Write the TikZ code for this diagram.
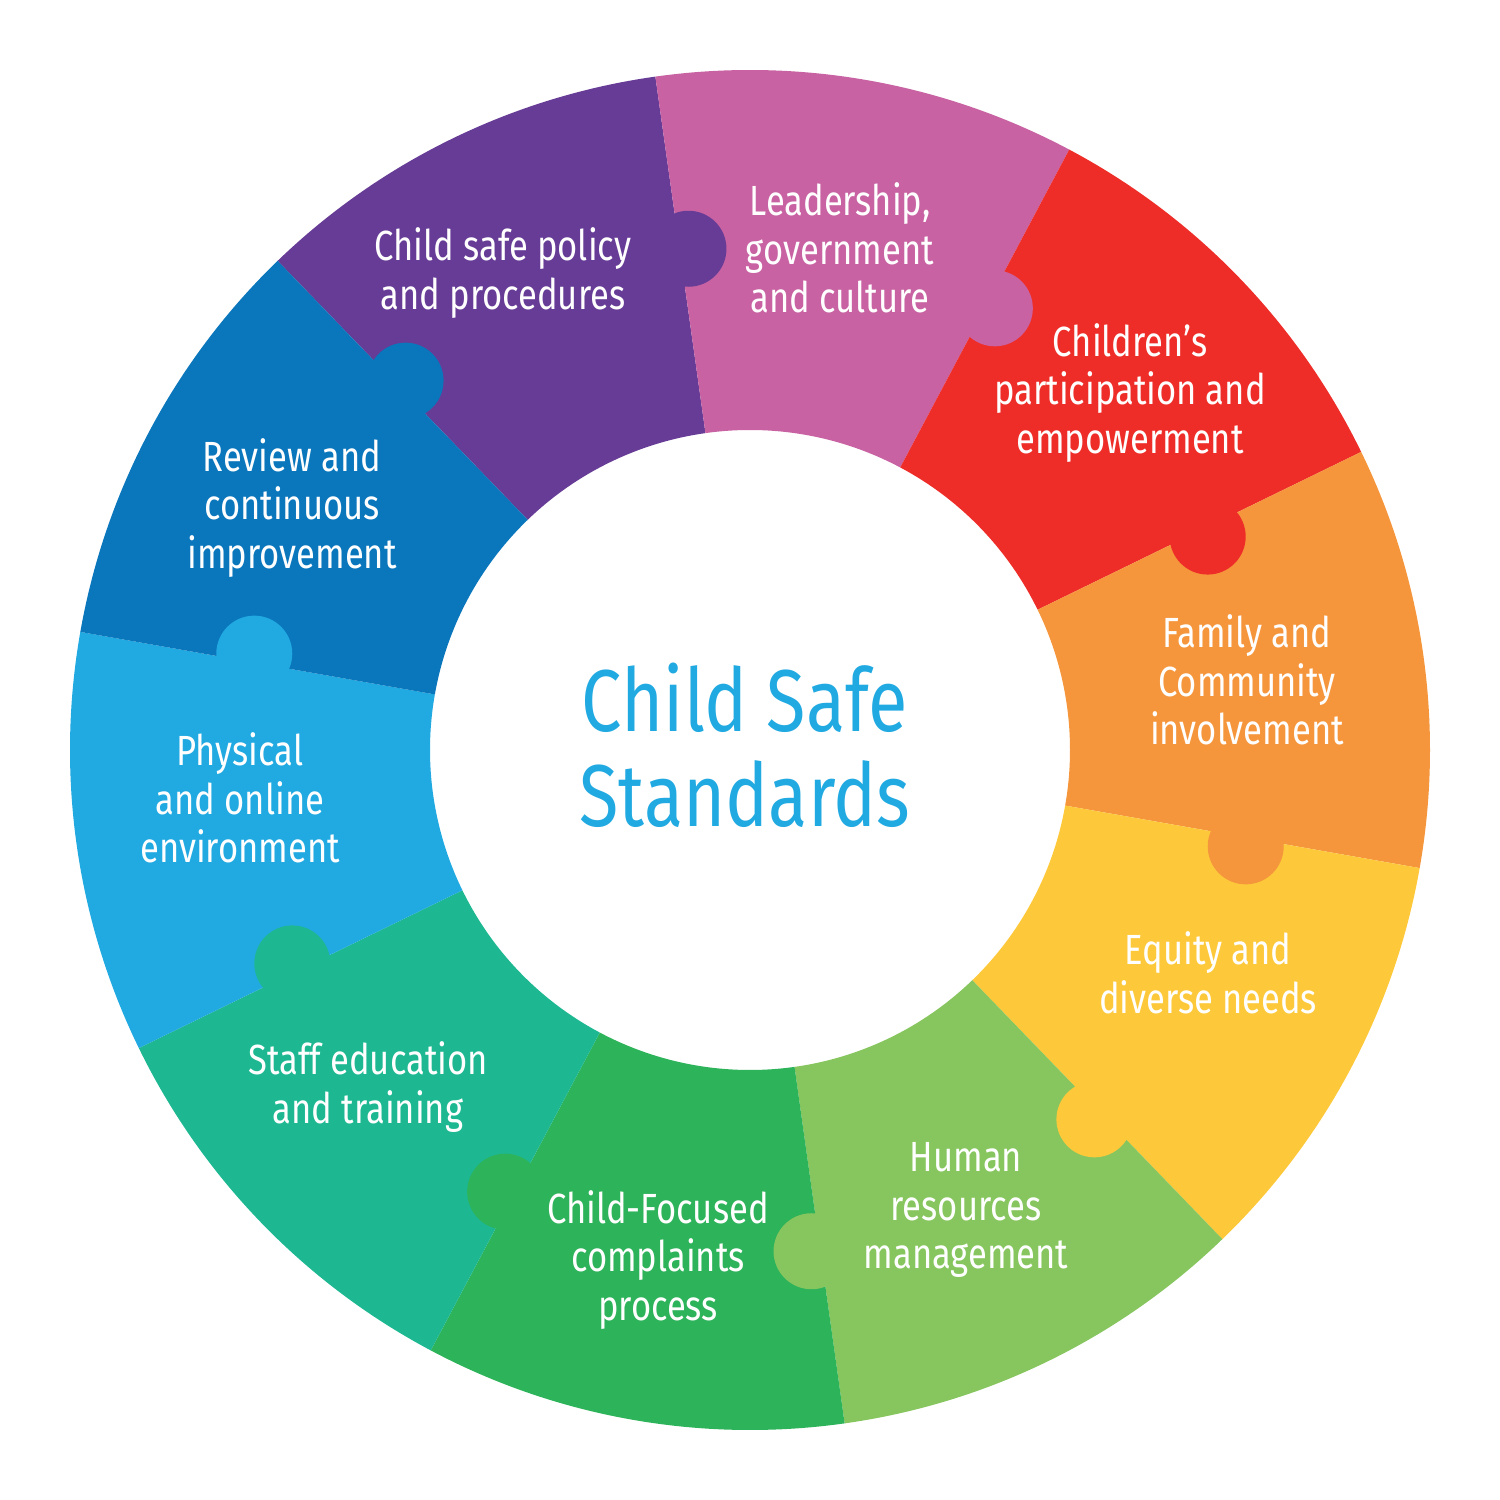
\documentclass[tikz,border=0pt]{standalone}
\usepackage{fontspec}
\setmainfont{Fira Sans}[FakeStretch=0.82]
\definecolor{cpurple}{HTML}{673C96}
\definecolor{cpink}{HTML}{C862A2}
\definecolor{cred}{HTML}{EE2D29}
\definecolor{corange}{HTML}{F5963C}
\definecolor{cyellow}{HTML}{FDC93A}
\definecolor{clgreen}{HTML}{87C65E}
\definecolor{cgreen}{HTML}{2DB35A}
\definecolor{cteal}{HTML}{1DB892}
\definecolor{clblue}{HTML}{21A9E1}
\definecolor{cblue}{HTML}{0A76BC}
\tikzset{
  piece label/.style = {text = white, align = center, font = \fontsize{12}{13.8}\selectfont}
}
\begin{document}
\begin{tikzpicture}
  \useasboundingbox (0,0) rectangle (15,15);
  \coordinate (c) at (7.5,7.5);
  % ring segments
  \foreach \col/\a in {cpurple/134, cpink/98, cred/62, corange/26, cyellow/-10,
                       clgreen/-46, cgreen/-82, cteal/-118, clblue/-154, cblue/-190}
  {
    \pgfmathsetmacro{\e}{\a-36}
    \fill [\col] ([shift = {(\a:6.8)}]c) arc [start angle = \a, end angle = \e, radius = 6.8]
      -- ([shift = {(\e:3.2)}]c) arc [start angle = \e, end angle = \a, radius = 3.2] -- cycle;
  }
  % puzzle knobs
  \foreach \col/\a in {cpurple/134, cpink/98, cred/62, corange/26, cyellow/-10,
                       clgreen/-46, cgreen/-82, cteal/-118, clblue/-154, cblue/-190}
  {
    \pgfmathsetmacro{\k}{\a-37}
    \fill [\col] ([shift = {(\k:5.05)}]c) circle (0.38);
  }
  \node [piece label] (policy) at (5.03,12.27) {Child safe policy\\and procedures};
  \node [piece label] (leader) at (8.40,12.52) {Leadership,\\government\\and culture};
  \node [piece label] (children) at (11.30,11.07) {Children’s\\participation and\\empowerment};
  \node [piece label] (family) at (12.47,8.20) {Family and\\Community\\involvement};
  \node [piece label] (equity) at (12.08,5.27) {Equity and\\diverse needs};
  \node [piece label] (human) at (9.66,2.90) {Human\\resources\\management};
  \node [piece label] (complaints) at (6.58,2.40) {Child-Focused\\complaints\\process};
  \node [piece label] (staff) at (3.68,4.13) {Staff education\\and training};
  \node [piece label] (physical) at (2.40,7.02) {Physical\\and online\\environment};
  \node [piece label] (review) at (2.92,9.92) {Review and\\continuous\\improvement};
  \node [text = clblue, align = center, font = \fontsize{25}{27}\selectfont]
    (title) at (7.45,7.55) {Child Safe\\Standards};
\end{tikzpicture}
\end{document}
